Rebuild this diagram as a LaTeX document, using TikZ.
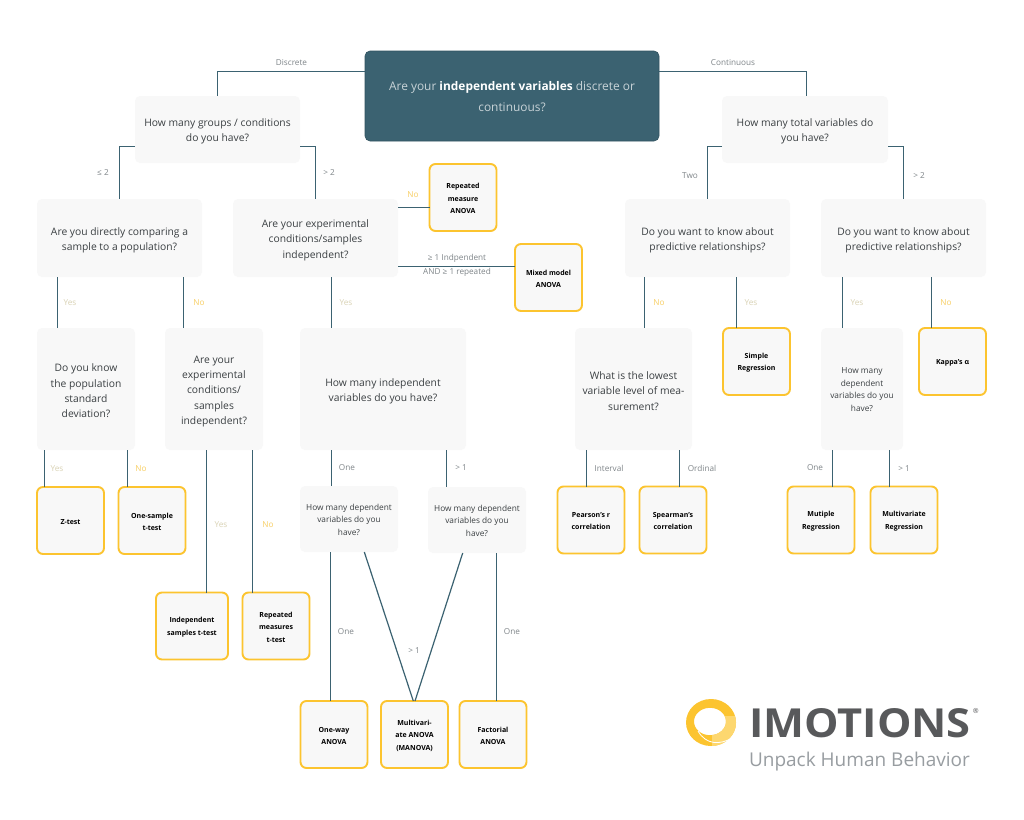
\documentclass[tikz,border=0pt]{standalone}
\usepackage{fontspec}
\setmainfont{Open Sans}
\usetikzlibrary{shapes,arrows,positioning}
\definecolor{teal}{HTML}{3B6271}
\definecolor{boxgray}{HTML}{F8F8F8}
\definecolor{gold}{HTML}{FCC42F}
\definecolor{lightgold}{HTML}{FDD76F}
\definecolor{labgray}{HTML}{7F8589}
\definecolor{pale}{HTML}{D9D2B4}
\definecolor{nogold}{HTML}{F8CE62}
\definecolor{inktext}{HTML}{3A3F42}
\definecolor{logogray}{HTML}{58595B}
\newcommand{\lift}{\rule{0pt}{\liftht}}
\begin{document}
\begin{tikzpicture}[x=1pt,y=-1pt,line width=1.2pt,draw=teal]
\tikzstyle{every node}=[inner sep=0pt,outer sep=0pt,align=center]
\tikzstyle{question}=[fill=boxgray,rounded corners=5pt,text=inktext,font=\fontsize{10.3}{15.3}\selectfont,execute at begin node={\def\liftht{12pt}}]
\tikzstyle{smallq}=[question,font=\fontsize{8.3}{12.4}\selectfont,execute at begin node={\def\liftht{7.3pt}}]
\tikzstyle{result}=[fill=boxgray,draw=gold,line width=1.9pt,rounded corners=6pt,text=black,minimum width=67pt,minimum height=67pt,font=\fontsize{7}{12.3}\selectfont\bfseries,execute at begin node={\def\liftht{7.5pt}}]
\tikzstyle{lab}=[text=labgray,font=\fontsize{8.2}{14}\selectfont,yshift=-1pt]
\tikzstyle{yes}=[lab,text=pale]
\tikzstyle{no}=[lab,text=nogold]
\useasboundingbox (0,0) rectangle (1024,819);
\fill[white] (0,0) rectangle (1024,819);

\node[fill=teal,draw=teal!85!black,line width=.6pt,rounded corners=5pt,minimum width=294pt,minimum height=90pt,text=white!72!teal,font=\fontsize{11.9}{21}\selectfont,execute at begin node={\def\liftht{11pt}}] (root) at (512,96) {\lift Are your {\color{white}\bfseries independent variables} discrete or\\continuous?};
\node[question,minimum width=165pt,minimum height=67pt] (groups) at (217.5,129.5) {\lift How many groups / conditions\\do you have?};
\node[question,minimum width=166pt,minimum height=67pt] (total) at (805,129.5) {\lift How many total variables do\\you have?};
\node[question,minimum width=165pt,minimum height=78pt] (direct) at (119.5,238) {\lift Are you directly comparing a\\sample to a population?};
\node[question,minimum width=165pt,minimum height=78pt] (exper) at (315.5,238) {\lift Are your experimental\\conditions/samples\\independent?};
\node[question,minimum width=165pt,minimum height=78pt] (predL) at (707.5,238) {\lift Do you want to know about\\predictive relationships?};
\node[question,minimum width=165pt,minimum height=78pt] (predR) at (903.5,238) {\lift Do you want to know about\\predictive relationships?};
\node[question,minimum width=98pt,minimum height=122pt] (know) at (86,389) {\lift Do you know\\the population\\standard\\deviation?};
\node[question,minimum width=98pt,minimum height=122pt] (samples) at (214,389) {\lift Are your\\experimental\\conditions/\\samples\\independent?};
\node[question,minimum width=166pt,minimum height=122pt] (indep) at (383,389) {\lift How many independent\\variables do you have?};
\node[question,minimum width=117pt,minimum height=122pt] (lowest) at (633.5,389) {\lift What is the lowest\\variable level of mea-\\surement?};
\node[smallq,minimum width=82pt,minimum height=122pt] (depR) at (862,389) {\lift How many\\dependent\\variables do you\\have?};
\node[smallq,minimum width=98pt,minimum height=66pt] (depA) at (349,519) {\lift How many dependent\\variables do you\\have?};
\node[smallq,minimum width=98pt,minimum height=66pt] (depB) at (477,520) {\lift How many dependent\\variables do you\\have?};

\node[result] (repeated) at (463,197.5) {\lift Repeated\\measure\\ANOVA};
\node[result] (mixed) at (548.5,277.5) {\lift Mixed model\\ANOVA};
\node[result] (simple) at (756.5,361.5) {\lift Simple\\Regression};
\node[result] (kappa) at (952.5,361.5) {\lift Kappa’s α};
\node[result] (ztest) at (70.5,520.5) {\lift Z-test};
\node[result] (onesample) at (152,520.5) {\lift One-sample\\t-test};
\node[result,minimum width=72pt] (indsamples) at (192,626) {\lift Independent\\samples t-test};
\node[result] (repmeasures) at (276,626) {\lift Repeated\\measures\\t-test};
\node[result] (pearson) at (591,520) {\lift Pearson’s r\\correlation};
\node[result] (spearman) at (673,520) {\lift Spearman’s\\correlation};
\node[result] (mutiple) at (821,520) {\lift Mutiple\\Regression};
\node[result] (multivariate) at (904,520) {\lift Multivariate\\Regression};
\node[result] (oneway) at (334,734.5) {\lift One-way\\ANOVA};
\node[result] (manova) at (414.5,734.5) {\lift Multivari-\\ate ANOVA\\(MANOVA)};
\node[result] (factorial) at (493,734.5) {\lift Factorial\\ANOVA};

\draw ([yshift=24.5pt]root.west) -| (groups.north);
\draw ([yshift=24.5pt]root.east) -| ([xshift=1.7pt]total.north);
\draw ([yshift=-17pt]groups.west) -| (direct.north);
\draw ([yshift=-17pt]groups.east) -| (exper.north);
\draw ([yshift=-17pt]total.west) -| (predL.north);
\draw ([yshift=-17pt]total.east) -| (predR.north);
\draw ([yshift=30.6pt]exper.east) -- ([yshift=-9.9pt]repeated.west);
\draw ([yshift=-28.5pt]exper.east) -- ([yshift=11pt]mixed.west);
\foreach \src/\dst/\xpos in {direct/know/57.4,direct/samples/183.5,exper/indep/331.5,
  predL/lowest/644.6,predL/simple/736.8,predR/depR/842.4,predR/kappa/931.4,
  know/ztest/44.7,know/onesample/127.3,samples/indsamples/206.7,samples/repmeasures/252.7,
  indep/depA/331.3,indep/depB/446.7,depA/oneway/330.4,depB/factorial/496.7,
  lowest/pearson/586.5,lowest/spearman/679.3,depR/mutiple/832.3,depR/multivariate/889.7}
{
  \coordinate (c) at (\xpos,0);
  \draw (\src.south -| c) -- (\dst.north -| c);
}
\draw ([xshift=15.3pt]depA.south) -- ([xshift=-1.2pt]manova.north);
\draw ([xshift=-14.3pt]depB.south) -- ([xshift=.5pt]manova.north);

\node[lab] (lDiscrete) at (291.5,62) {Discrete};
\node[lab] (lContinuous) at (733,62) {Continuous};
\node[lab] (lLeq) at (103,172) {≤ 2};
\node[lab] (lGt) at (329,172) {> 2};
\node[lab] (lTwo) at (690,175) {Two};
\node[lab] (lGtR) at (919,175) {> 2};
\node[lab] (lMixed) at (457,264) {≥ 1 Indpendent\\AND ≥ 1 repeated};
\node[no] (lNoRep) at (413,193.5) {No};
\node[yes] (lYesA) at (70,302) {Yes};
\node[no] (lNoA) at (199,302) {No};
\node[yes] (lYesB) at (346,302) {Yes};
\node[no] (lNoB) at (659,302) {No};
\node[yes] (lYesC) at (751,302) {Yes};
\node[yes] (lYesD) at (857,302) {Yes};
\node[no] (lNoC) at (946,302) {No};
\node[yes] (lYesE) at (57,467.5) {Yes};
\node[no] (lNoD) at (141,467.5) {No};
\node[yes] (lYesF) at (221,524) {Yes};
\node[no] (lNoE) at (268,524) {No};
\node[lab] (lOneA) at (347,467) {One};
\node[lab] (lGtA) at (461,467) {> 1};
\node[lab] (lOneB) at (346,631) {One};
\node[lab] (lGtB) at (414,650) {> 1};
\node[lab] (lOneC) at (512,631) {One};
\node[lab] (lInterval) at (609,467) {Interval};
\node[lab] (lOrdinal) at (702,467) {Ordinal};
\node[lab] (lOneD) at (815,467) {One};
\node[lab] (lGtC) at (904,468) {> 1};

\fill[gold,even odd rule] (711,722.5) ellipse (25pt and 23.5pt) (710,721.5) ellipse (16pt and 13.7pt);
\begin{scope}
\clip (724,716) -- (740,716) -- (740,750) -- (712,750) -- (712,735) -- cycle;
\fill[lightgold,even odd rule] (711,722.5) ellipse (25pt and 23.5pt) (710,721.5) ellipse (16pt and 13.7pt);
\end{scope}
\draw[white,line width=.8pt] (698,731) .. controls (706,745) and (720,745) .. (732,738);
\node[anchor=west,text=logogray,font=\fontsize{40}{40}\selectfont\bfseries] (brand) at (749,723.5) {\scalebox{1.085}[1]{IMOTIONS}};
\node[text=logogray,font=\fontsize{7}{8}\selectfont] (reg) at (975.7,710.5) {®};
\node[anchor=west,text=labgray!80,font=\fontsize{19}{22}\selectfont] (claim) at (749,761.5) {Unpack Human Behavior};
\end{tikzpicture}
\end{document}
